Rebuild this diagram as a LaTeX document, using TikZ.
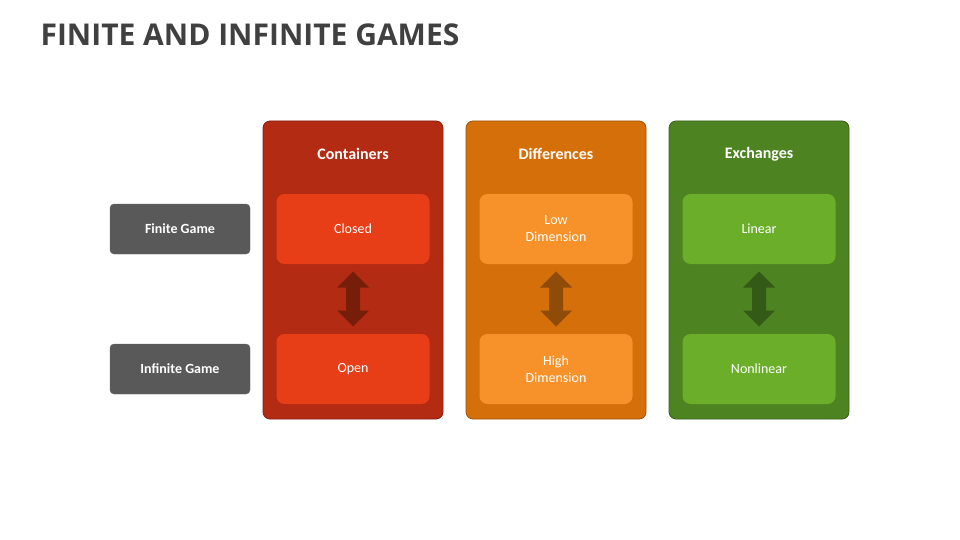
\documentclass[tikz,border=0pt]{standalone}
\usepackage{fontspec}
\setmainfont{Carlito}
\newfontfamily\titlefont{Open Sans}
\usetikzlibrary{positioning,calc}
\definecolor{titlegray}{HTML}{404040}
\definecolor{rowgray}{HTML}{595959}
\definecolor{redout}{HTML}{B22B12}
\definecolor{redin}{HTML}{E83E17}
\definecolor{redarr}{HTML}{771E0B}
\definecolor{orgout}{HTML}{D46F0A}
\definecolor{orgin}{HTML}{F7922A}
\definecolor{orgarr}{HTML}{8E4C08}
\definecolor{grnout}{HTML}{4E8321}
\definecolor{grnin}{HTML}{6AAE2A}
\definecolor{grnarr}{HTML}{335A17}
\tikzset{
  rowbox/.style={draw=black!60,fill=rowgray,rounded corners=4pt,minimum width=140pt,
    minimum height=50pt,text=white,font=\bfseries\fontsize{14}{16}\selectfont},
  colbox/.style={rounded corners=7pt,minimum width=180pt,minimum height=298pt,line width=0.8pt},
  cellbox/.style={rounded corners=8pt,minimum width=153pt,minimum height=70pt,text=white,
    align=center,font=\fontsize{14}{17}\selectfont},
  head/.style={text=white,font=\bfseries\fontsize{16}{18}\selectfont}
}
% vertical double arrow at a point
\newcommand{\dblarrow}[2]{%
  \fill[#2] ($(#1)+(0,27.5)$) -- ++(16,-16) -- ++(-9,0) -- ++(0,-23) -- ++(9,0)
    -- ++(-16,-16) -- ++(-16,16) -- ++(9,0) -- ++(0,23) -- ++(-9,0) -- cycle;}
\begin{document}
\begin{tikzpicture}[x=1pt,y=-1pt]
  \useasboundingbox (0,0) rectangle (960,540);
  \node[anchor=west,text=titlegray,font=\titlefont\bfseries\fontsize{30}{34}\selectfont]
    (title) at (37,35) {FINITE AND INFINITE GAMES};
  \node[rowbox] (finite) at (180,229) {Finite Game};
  \node[rowbox] (infinite) at (180,369) {Infinite Game};
  % columns
  \foreach \n/\x/\out/\in/\arr/\hd/\a/\b in {
      cont/353/redout/redin/redarr/Containers/Closed/Open,
      diff/556/orgout/orgin/orgarr/Differences/Low\\Dimension/High\\Dimension,
      exch/759/grnout/grnin/grnarr/Exchanges/Linear/Nonlinear}{
    \node[colbox,draw=\out!75!black,fill=\out] (\n) at (\x,270) {};
    \node[head] (\n-head) at (\x,154) {\hd};
    \node[cellbox,fill=\in] (\n-top) at (\x,229) {\a};
    \node[cellbox,fill=\in] (\n-bot) at (\x,369) {\b};
    \coordinate (\n-mid) at ($(\n-top.south)!0.5!(\n-bot.north)$);
    \dblarrow{\n-mid}{\arr}
  }
\end{tikzpicture}
\end{document}
